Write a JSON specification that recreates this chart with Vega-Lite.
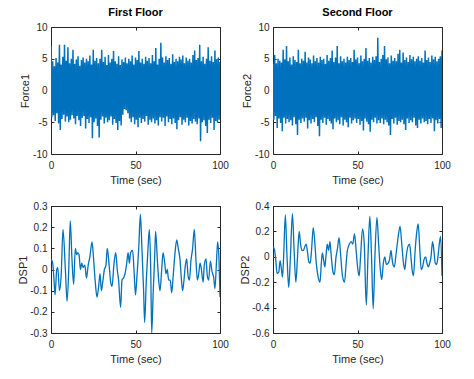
{
"$schema":"https://vega.github.io/schema/vega-lite/v6.json",
"background":"white",
"padding":{"left":16,"top":6,"right":5,"bottom":5},
"config":{
"font":"Liberation Sans",
"view":{"stroke":"#262626","strokeWidth":1},
"axis":{"domain":false,"grid":false,"labelColor":"#262626","titleColor":"#262626","tickColor":"#262626","labelFontSize":10,"titleFontSize":11,"titleFontWeight":"normal","labelFont":"Liberation Sans","titleFont":"Liberation Sans"},
"axisX":{"tickSize":-3,"labelPadding":9,"titlePadding":4,"labelFlush":false},
"axisY":{"tickSize":-3,"labelPadding":7,"titlePadding":3},
"title":{"fontSize":11,"fontWeight":"bold","color":"#000000","offset":4,"anchor":"middle","frame":"group","font":"Liberation Sans"}
},
"columns":2,
"spacing":{"row":52,"column":53},
"bounds":"flush",
"datasets":{
"force":[
{"t":0,"a":7.0,"b":4.2},{"t":0.5,"a":-4.2,"b":-4.6},{"t":1,"a":4.6,"b":5.6},{"t":1.5,"a":-3.9,"b":-4.0},{"t":2,"a":3.8,"b":4.3},{"t":2.5,"a":-4.8,"b":-5.9},{"t":3,"a":5.1,"b":5.0},{"t":3.5,"a":-3.6,"b":-4.4},{"t":4,"a":4.4,"b":4.7},{"t":4.5,"a":-5.2,"b":-5.1},
{"t":5,"a":7.2,"b":4.4},{"t":5.5,"a":-6.2,"b":-6.4},{"t":6,"a":4.1,"b":6.4},{"t":6.5,"a":-4.5,"b":-4.3},{"t":7,"a":5.3,"b":4.9},{"t":7.5,"a":-3.8,"b":-5.2},{"t":8,"a":7.2,"b":7.0},{"t":8.5,"a":-4.9,"b":-4.5},{"t":9,"a":4.7,"b":4.6},{"t":9.5,"a":-4.1,"b":-5.0},
{"t":10,"a":6.8,"b":5.2},{"t":10.5,"a":-5.0,"b":-4.7},{"t":11,"a":4.3,"b":4.1},{"t":11.5,"a":-4.6,"b":-5.5},{"t":12,"a":5.0,"b":5.4},{"t":12.5,"a":-3.9,"b":-4.2},{"t":13,"a":6.4,"b":4.8},{"t":13.5,"a":-4.4,"b":-5.3},{"t":14,"a":4.2,"b":4.5},{"t":14.5,"a":-5.3,"b":-7.0},
{"t":15,"a":4.9,"b":6.4},{"t":15.5,"a":-4.0,"b":-4.6},{"t":16,"a":5.4,"b":4.3},{"t":16.5,"a":-4.7,"b":-5.1},{"t":17,"a":3.9,"b":5.0},{"t":17.5,"a":-5.6,"b":-4.4},{"t":18,"a":4.8,"b":4.7},{"t":18.5,"a":-4.3,"b":-4.9},{"t":19,"a":5.2,"b":6.1},{"t":19.5,"a":-4.0,"b":-4.3},
{"t":20,"a":4.4,"b":4.4},{"t":20.5,"a":-6.0,"b":-6.0},{"t":21,"a":5.0,"b":5.2},{"t":21.5,"a":-4.5,"b":-4.7},{"t":22,"a":4.6,"b":4.9},{"t":22.5,"a":-5.1,"b":-5.2},{"t":23,"a":5.5,"b":4.3},{"t":23.5,"a":-4.2,"b":-4.5},{"t":24,"a":4.1,"b":5.5},{"t":24.5,"a":-7.5,"b":-5.0},
{"t":25,"a":6.4,"b":4.6},{"t":25.5,"a":-5.0,"b":-4.2},{"t":26,"a":4.7,"b":5.1},{"t":26.5,"a":-4.4,"b":-5.6},{"t":27,"a":5.1,"b":4.4},{"t":27.5,"a":-5.6,"b":-7.2},{"t":28,"a":4.3,"b":5.3},{"t":28.5,"a":-7.4,"b":-4.6},{"t":29,"a":5.0,"b":4.8},{"t":29.5,"a":-4.6,"b":-5.1},
{"t":30,"a":6.4,"b":5.0},{"t":30.5,"a":-4.1,"b":-4.3},{"t":31,"a":4.5,"b":4.2},{"t":31.5,"a":-5.2,"b":-5.4},{"t":32,"a":5.3,"b":5.6},{"t":32.5,"a":-4.3,"b":-4.5},{"t":33,"a":4.0,"b":4.7},{"t":33.5,"a":-5.0,"b":-4.8},{"t":34,"a":5.6,"b":5.1},{"t":34.5,"a":-4.7,"b":-5.2},
{"t":35,"a":4.4,"b":6.3},{"t":35.5,"a":-4.1,"b":-6.1},{"t":36,"a":5.0,"b":4.5},{"t":36.5,"a":-5.4,"b":-4.4},{"t":37,"a":6.2,"b":5.2},{"t":37.5,"a":-4.5,"b":-5.0},{"t":38,"a":4.6,"b":7.0},{"t":38.5,"a":-5.1,"b":-4.7},{"t":39,"a":4.2,"b":4.3},{"t":39.5,"a":-6.2,"b":-5.3},
{"t":40,"a":5.4,"b":5.4},{"t":40.5,"a":-4.8,"b":-4.2},{"t":41,"a":4.0,"b":4.6},{"t":41.5,"a":-5.5,"b":-5.5},{"t":42,"a":4.9,"b":5.0},{"t":42.5,"a":-3.8,"b":-4.6},{"t":43,"a":4.5,"b":4.4},{"t":43.5,"a":-2.9,"b":-5.0},{"t":44,"a":5.2,"b":5.3},{"t":44.5,"a":-3.1,"b":-5.8},
{"t":45,"a":4.3,"b":4.8},{"t":45.5,"a":-3.6,"b":-4.3},{"t":46,"a":5.0,"b":5.1},{"t":46.5,"a":-4.4,"b":-5.2},{"t":47,"a":4.6,"b":4.5},{"t":47.5,"a":-5.0,"b":-4.7},{"t":48,"a":5.5,"b":6.4},{"t":48.5,"a":-4.2,"b":-4.4},{"t":49,"a":4.1,"b":4.9},{"t":49.5,"a":-5.3,"b":-5.1},
{"t":50,"a":5.2,"b":5.2},{"t":50.5,"a":-4.6,"b":-4.5},{"t":51,"a":4.8,"b":4.3},{"t":51.5,"a":-5.8,"b":-5.4},{"t":52,"a":6.2,"b":5.5},{"t":52.5,"a":-4.3,"b":-4.8},{"t":53,"a":4.4,"b":4.6},{"t":53.5,"a":-5.1,"b":-6.3},{"t":54,"a":5.0,"b":5.0},{"t":54.5,"a":-4.5,"b":-4.4},
{"t":55,"a":4.2,"b":6.7},{"t":55.5,"a":-4.9,"b":-4.9},{"t":56,"a":5.3,"b":4.7},{"t":56.5,"a":-4.0,"b":-5.3},{"t":57,"a":4.7,"b":5.1},{"t":57.5,"a":-5.4,"b":-6.5},{"t":58,"a":5.1,"b":4.4},{"t":58.5,"a":-4.6,"b":-4.6},{"t":59,"a":4.3,"b":5.3},{"t":59.5,"a":-5.0,"b":-5.0},
{"t":60,"a":5.6,"b":4.8},{"t":60.5,"a":-4.4,"b":-4.3},{"t":61,"a":4.6,"b":5.4},{"t":61.5,"a":-5.2,"b":-5.2},{"t":62,"a":6.7,"b":8.3},{"t":62.5,"a":-4.7,"b":-4.7},{"t":63,"a":4.1,"b":4.5},{"t":63.5,"a":-5.5,"b":-5.1},{"t":64,"a":5.0,"b":5.0},{"t":64.5,"a":-4.2,"b":-4.4},
{"t":65,"a":7.5,"b":5.6},{"t":65.5,"a":-4.9,"b":-5.3},{"t":66,"a":5.2,"b":7.0},{"t":66.5,"a":-4.3,"b":-4.6},{"t":67,"a":4.4,"b":4.9},{"t":67.5,"a":-5.6,"b":-5.0},{"t":68,"a":5.4,"b":5.2},{"t":68.5,"a":-4.1,"b":-5.5},{"t":69,"a":4.8,"b":4.3},{"t":69.5,"a":-5.0,"b":-7.0},
{"t":70,"a":5.1,"b":5.5},{"t":70.5,"a":-4.5,"b":-4.5},{"t":71,"a":4.2,"b":4.7},{"t":71.5,"a":-5.3,"b":-5.2},{"t":72,"a":5.7,"b":5.1},{"t":72.5,"a":-4.4,"b":-4.3},{"t":73,"a":4.5,"b":4.6},{"t":73.5,"a":-5.1,"b":-5.4},{"t":74,"a":5.0,"b":5.8},{"t":74.5,"a":-6.1,"b":-4.8},
{"t":75,"a":4.6,"b":6.4},{"t":75.5,"a":-4.7,"b":-5.0},{"t":76,"a":5.3,"b":4.4},{"t":76.5,"a":-4.2,"b":-4.6},{"t":77,"a":4.9,"b":6.0},{"t":77.5,"a":-5.4,"b":-5.3},{"t":78,"a":5.5,"b":4.8},{"t":78.5,"a":-4.6,"b":-6.2},{"t":79,"a":4.3,"b":5.2},{"t":79.5,"a":-5.0,"b":-4.4},
{"t":80,"a":5.2,"b":4.5},{"t":80.5,"a":-4.3,"b":-5.1},{"t":81,"a":4.7,"b":5.6},{"t":81.5,"a":-5.5,"b":-4.7},{"t":82,"a":5.0,"b":4.9},{"t":82.5,"a":-4.8,"b":-5.0},{"t":83,"a":4.4,"b":5.3},{"t":83.5,"a":-5.2,"b":-4.3},{"t":84,"a":5.6,"b":4.6},{"t":84.5,"a":-4.5,"b":-5.5},
{"t":85,"a":6.3,"b":5.0},{"t":85.5,"a":-4.9,"b":-5.9},{"t":86,"a":4.8,"b":5.4},{"t":86.5,"a":-5.3,"b":-4.6},{"t":87,"a":5.1,"b":4.7},{"t":87.5,"a":-4.4,"b":-5.2},{"t":88,"a":7.2,"b":5.1},{"t":88.5,"a":-8.0,"b":-4.4},{"t":89,"a":4.6,"b":4.4},{"t":89.5,"a":-5.0,"b":-5.0},
{"t":90,"a":5.3,"b":6.3},{"t":90.5,"a":-4.7,"b":-4.8},{"t":91,"a":4.2,"b":4.8},{"t":91.5,"a":-5.6,"b":-5.3},{"t":92,"a":5.0,"b":5.2},{"t":92.5,"a":-6.7,"b":-4.5},{"t":93,"a":6.8,"b":4.5},{"t":93.5,"a":-4.6,"b":-5.1},{"t":94,"a":4.7,"b":5.5},{"t":94.5,"a":-5.1,"b":-4.4},
{"t":95,"a":5.4,"b":4.9},{"t":95.5,"a":-4.3,"b":-6.4},{"t":96,"a":4.5,"b":5.3},{"t":96.5,"a":-6.2,"b":-4.7},{"t":97,"a":6.3,"b":4.6},{"t":97.5,"a":-4.8,"b":-5.2},{"t":98,"a":4.9,"b":5.0},{"t":98.5,"a":-5.0,"b":-4.5},{"t":99,"a":5.2,"b":5.4},{"t":99.5,"a":-4.6,"b":-5.9},
{"t":100,"a":4.5,"b":6.3}
],
"dsp1":[
{"t":0,"v":0.05},{"t":1,"v":0.03},{"t":1.8,"v":-0.05},{"t":2.4,"v":-0.12},{"t":3.4,"v":0.0},{"t":4,"v":0.01},{"t":5,"v":-0.1},{"t":6,"v":-0.03},{"t":7.1,"v":0.19},{"t":8.5,"v":0.0},{"t":9.5,"v":-0.15},{"t":10.5,"v":0.0},{"t":11.4,"v":0.23},{"t":12.4,"v":0.05},{"t":13.4,"v":-0.07},{"t":14.4,"v":0.1},{"t":15.2,"v":0.07},{"t":15.8,"v":0.08},{"t":16.6,"v":0.07},{"t":17.4,"v":0.0},{"t":18.2,"v":0.03},{"t":19,"v":0.01},{"t":20,"v":0.02},{"t":21,"v":-0.04},{"t":22,"v":0.02},{"t":23,"v":0.06},{"t":24.3,"v":0.13},{"t":25.2,"v":0.05},{"t":26.2,"v":-0.06},{"t":27.2,"v":-0.13},{"t":28.2,"v":-0.08},{"t":29,"v":-0.02},{"t":29.8,"v":-0.1},{"t":30.6,"v":-0.06},{"t":31.6,"v":0.0},{"t":32.5,"v":0.02},{"t":33.3,"v":0.1},{"t":34.3,"v":0.03},{"t":35.3,"v":-0.06},{"t":36.1,"v":-0.08},{"t":37.3,"v":0.03},{"t":38.3,"v":0.08},{"t":39.2,"v":0.0},{"t":40,"v":-0.05},{"t":41.2,"v":-0.18},{"t":42,"v":-0.05},{"t":42.9,"v":-0.04},{"t":43.8,"v":-0.02},{"t":44.8,"v":0.03},{"t":45.6,"v":0.08},{"t":46.4,"v":0.03},{"t":47.1,"v":0.08},{"t":48.3,"v":0.09},{"t":49.1,"v":0.0},{"t":50,"v":-0.12},{"t":50.7,"v":-0.05},{"t":51.9,"v":0.1},{"t":52.9,"v":0.26},{"t":53.8,"v":0.1},{"t":54.8,"v":-0.1},{"t":55.4,"v":-0.25},{"t":56.4,"v":-0.05},{"t":57.4,"v":0.1},{"t":58.2,"v":0.19},{"t":59,"v":0.0},{"t":59.6,"v":-0.3},{"t":60.5,"v":-0.1},{"t":61.3,"v":0.05},{"t":61.9,"v":0.18},{"t":62.9,"v":0.05},{"t":63.7,"v":-0.05},{"t":64.5,"v":-0.1},{"t":65.5,"v":0.0},{"t":66.3,"v":0.08},{"t":67.3,"v":0.03},{"t":68,"v":-0.02},{"t":68.8,"v":0.0},{"t":69.6,"v":-0.05},{"t":70.6,"v":-0.05},{"t":71.4,"v":-0.11},{"t":72.4,"v":-0.02},{"t":73.4,"v":0.08},{"t":74.4,"v":0.14},{"t":75.3,"v":0.1},{"t":76.3,"v":0.05},{"t":77.3,"v":-0.06},{"t":77.9,"v":-0.1},{"t":78.8,"v":-0.04},{"t":79.5,"v":0.02},{"t":80.3,"v":0.05},{"t":81.1,"v":-0.03},{"t":81.9,"v":-0.05},{"t":82.8,"v":0.04},{"t":83.8,"v":0.1},{"t":84.8,"v":0.19},{"t":85.8,"v":0.04},{"t":86.6,"v":-0.05},{"t":87.4,"v":-0.02},{"t":88.2,"v":0.03},{"t":89,"v":0.0},{"t":90,"v":-0.06},{"t":90.7,"v":0.02},{"t":91.7,"v":0.05},{"t":92.5,"v":-0.03},{"t":93.3,"v":-0.05},{"t":94.3,"v":0.04},{"t":95.3,"v":-0.01},{"t":96.3,"v":-0.04},{"t":97,"v":-0.09},{"t":98,"v":0.05},{"t":98.6,"v":0.13},{"t":99.4,"v":0.05},{"t":100,"v":-0.13}
],
"dsp2":[
{"t":0,"v":0.08},{"t":0.8,"v":0.06},{"t":1.6,"v":-0.02},{"t":2.4,"v":-0.13},{"t":3.4,"v":-0.12},{"t":4.2,"v":-0.03},{"t":5,"v":-0.1},{"t":5.6,"v":-0.16},{"t":6.3,"v":0.0},{"t":7.3,"v":0.33},{"t":8.3,"v":0.0},{"t":9.3,"v":-0.24},{"t":10.3,"v":0.0},{"t":11.5,"v":0.34},{"t":12.5,"v":0.05},{"t":13.5,"v":-0.2},{"t":14.5,"v":0.0},{"t":15.5,"v":0.2},{"t":16.3,"v":0.1},{"t":17.1,"v":0.05},{"t":18,"v":0.05},{"t":18.8,"v":0.08},{"t":19.6,"v":0.1},{"t":20.4,"v":0.04},{"t":21.2,"v":-0.04},{"t":22,"v":-0.05},{"t":22.8,"v":0.05},{"t":23.8,"v":0.23},{"t":24.8,"v":0.1},{"t":25.6,"v":-0.05},{"t":26.6,"v":-0.15},{"t":27.8,"v":-0.2},{"t":28.6,"v":-0.05},{"t":29.2,"v":0.03},{"t":30,"v":-0.03},{"t":30.7,"v":-0.08},{"t":31.3,"v":0.0},{"t":32.1,"v":0.1},{"t":32.9,"v":0.05},{"t":33.7,"v":0.12},{"t":34.5,"v":0.0},{"t":35.5,"v":-0.12},{"t":36.3,"v":-0.14},{"t":37.3,"v":0.0},{"t":38.1,"v":0.06},{"t":39.1,"v":0.15},{"t":40.1,"v":0.0},{"t":41.1,"v":-0.15},{"t":42.3,"v":-0.2},{"t":43.3,"v":-0.05},{"t":44,"v":0.05},{"t":45.2,"v":0.1},{"t":46.2,"v":0.12},{"t":47.2,"v":0.1},{"t":48.2,"v":0.18},{"t":49.2,"v":0.05},{"t":50.2,"v":-0.1},{"t":51,"v":-0.15},{"t":51.8,"v":0.0},{"t":53,"v":0.22},{"t":54,"v":0.1},{"t":55.2,"v":-0.38},{"t":56.2,"v":0.0},{"t":57.3,"v":0.32},{"t":58.3,"v":0.0},{"t":59.3,"v":-0.41},{"t":60.3,"v":0.0},{"t":61.5,"v":0.31},{"t":62.5,"v":0.1},{"t":63.5,"v":-0.1},{"t":64.3,"v":-0.18},{"t":65.3,"v":-0.05},{"t":66.1,"v":0.0},{"t":67.1,"v":-0.06},{"t":68.1,"v":-0.05},{"t":69,"v":-0.02},{"t":69.8,"v":0.05},{"t":70.8,"v":-0.05},{"t":71.8,"v":-0.08},{"t":72.8,"v":0.02},{"t":74,"v":0.15},{"t":75.2,"v":0.24},{"t":76.2,"v":0.1},{"t":77.2,"v":-0.05},{"t":78,"v":-0.1},{"t":78.8,"v":0.0},{"t":79.8,"v":0.08},{"t":80.8,"v":0.1},{"t":81.5,"v":0.02},{"t":82.3,"v":-0.1},{"t":83.1,"v":-0.15},{"t":84.1,"v":0.05},{"t":85.1,"v":0.2},{"t":85.9,"v":0.26},{"t":86.9,"v":0.05},{"t":87.7,"v":-0.1},{"t":88.5,"v":-0.08},{"t":89.4,"v":-0.02},{"t":90.3,"v":0.0},{"t":91.1,"v":-0.05},{"t":91.9,"v":-0.08},{"t":92.7,"v":-0.05},{"t":93.5,"v":0.0},{"t":94.4,"v":0.12},{"t":95.2,"v":0.05},{"t":96,"v":-0.05},{"t":96.8,"v":-0.06},{"t":97.6,"v":0.0},{"t":98.4,"v":0.1},{"t":99.2,"v":0.16},{"t":100,"v":-0.15}
]
},
"concat":[
{"data":{"name":"force"},"title":"First Floor","width":169,"height":127,
"resolve":{"axis":{"x":"independent","y":"independent"}},
"layer":[
{"mark":{"type":"line","strokeWidth":1.5,"color":"#0072BD","clip":true},
"encoding":{
"x":{"field":"t","type":"quantitative","scale":{"domain":[0,100],"nice":false,"zero":false},"axis":{"values":[0,50,100],"title":"Time (sec)"}},
"y":{"field":"a","type":"quantitative","scale":{"domain":[-10,10],"nice":false},"axis":{"values":[-10,-5,0,5,10],"title":"Force1","titleX":-21,"labelExpr":"'' + datum.value"}}}},
{"mark":{"type":"line","strokeOpacity":0},
"encoding":{
"x":{"field":"t","type":"quantitative","axis":{"orient":"top","values":[0,50,100],"labels":false,"title":null}},
"y":{"field":"a","type":"quantitative","axis":{"orient":"right","values":[-10,-5,0,5,10],"labels":false,"title":null}}}}
]},
{"data":{"name":"force"},"title":"Second Floor","width":169,"height":127,
"resolve":{"axis":{"x":"independent","y":"independent"}},
"layer":[
{"mark":{"type":"line","strokeWidth":1.5,"color":"#0072BD","clip":true},
"encoding":{
"x":{"field":"t","type":"quantitative","scale":{"domain":[0,100],"nice":false,"zero":false},"axis":{"values":[0,50,100],"title":"Time (sec)"}},
"y":{"field":"b","type":"quantitative","scale":{"domain":[-10,10],"nice":false},"axis":{"values":[-10,-5,0,5,10],"title":"Force2","titleX":-21,"labelExpr":"'' + datum.value"}}}},
{"mark":{"type":"line","strokeOpacity":0},
"encoding":{
"x":{"field":"t","type":"quantitative","axis":{"orient":"top","values":[0,50,100],"labels":false,"title":null}},
"y":{"field":"b","type":"quantitative","axis":{"orient":"right","values":[-10,-5,0,5,10],"labels":false,"title":null}}}}
]},
{"data":{"name":"dsp1"},"width":169,"height":127,
"resolve":{"axis":{"x":"independent","y":"independent"}},
"layer":[
{"mark":{"type":"line","strokeWidth":1.3,"color":"#0072BD","clip":true,"interpolate":"monotone"},
"encoding":{
"x":{"field":"t","type":"quantitative","scale":{"domain":[0,100],"nice":false,"zero":false},"axis":{"values":[0,50,100],"title":"Time (sec)"}},
"y":{"field":"v","type":"quantitative","scale":{"domain":[-0.3,0.3],"nice":false},"axis":{"values":[-0.3,-0.2,-0.1,0,0.1,0.2,0.3],"title":"DSP1","titleX":-23,"labelExpr":"'' + datum.value"}}}},
{"mark":{"type":"line","strokeOpacity":0},
"encoding":{
"x":{"field":"t","type":"quantitative","axis":{"orient":"top","values":[0,50,100],"labels":false,"title":null}},
"y":{"field":"v","type":"quantitative","axis":{"orient":"right","values":[-0.3,-0.2,-0.1,0,0.1,0.2,0.3],"labels":false,"title":null}}}}
]},
{"data":{"name":"dsp2"},"width":169,"height":127,
"resolve":{"axis":{"x":"independent","y":"independent"}},
"layer":[
{"mark":{"type":"line","strokeWidth":1.3,"color":"#0072BD","clip":true,"interpolate":"monotone"},
"encoding":{
"x":{"field":"t","type":"quantitative","scale":{"domain":[0,100],"nice":false,"zero":false},"axis":{"values":[0,50,100],"title":"Time (sec)"}},
"y":{"field":"v","type":"quantitative","scale":{"domain":[-0.6,0.4],"nice":false},"axis":{"values":[-0.6,-0.4,-0.2,0,0.2,0.4],"title":"DSP2","titleX":-23,"labelExpr":"'' + datum.value"}}}},
{"mark":{"type":"line","strokeOpacity":0},
"encoding":{
"x":{"field":"t","type":"quantitative","axis":{"orient":"top","values":[0,50,100],"labels":false,"title":null}},
"y":{"field":"v","type":"quantitative","axis":{"orient":"right","values":[-0.6,-0.4,-0.2,0,0.2,0.4],"labels":false,"title":null}}}}
]}
]
}
